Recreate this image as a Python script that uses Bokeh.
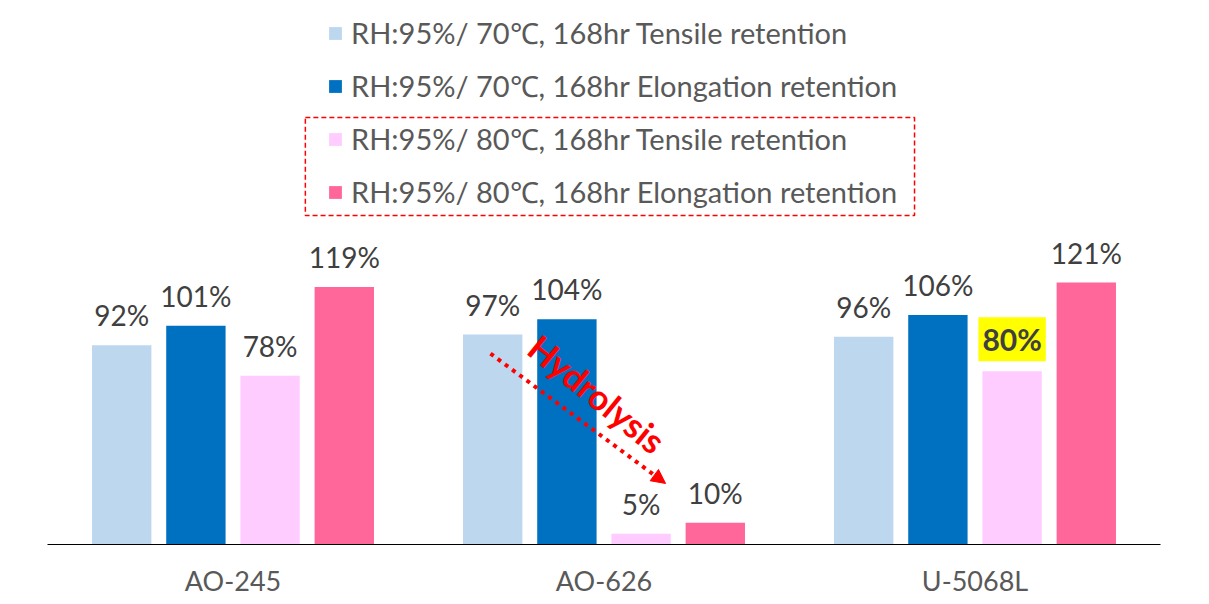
from bokeh.plotting import figure
from bokeh.models import (FactorRange, Range1d, ColumnDataSource, LabelSet, Label,
                          Legend, LegendItem, BoxAnnotation, Arrow, NormalHead)
from bokeh.transform import dodge
from bokeh.core.properties import value
from bokeh.embed import file_html
from bokeh.resources import INLINE

categories = ["AO-245", "AO-626", "U-5068L"]
series_names = [
    "RH:95%/ 70\u2103, 168hr Tensile retention",
    "RH:95%/ 70\u2103, 168hr Elongation retention",
    "RH:95%/ 80\u2103, 168hr Tensile retention",
    "RH:95%/ 80\u2103, 168hr Elongation retention",
]
tensile_70 = [92, 97, 96]
elong_70 = [101, 104, 106]
tensile_80 = [78, 5, 80]
elong_80 = [119, 10, 121]
highlight_index = 2  # U-5068L 80C tensile value highlighted

colors = ["#BDD7EE", "#0070C0", "#FFCCFF", "#FF6699"]
offsets = [-0.3, -0.1, 0.1, 0.3]
FONT = "Lato"

p = figure(width=1209, height=600, x_range=FactorRange(*categories, range_padding=0),
           y_range=Range1d(0, 251.3), output_backend="svg", toolbar_location=None,
           min_border_left=47, min_border_right=49, min_border_top=0, min_border_bottom=56)
p.outline_line_color = None
p.xgrid.visible = False
p.ygrid.visible = False
p.yaxis.visible = False
p.background_fill_color = "white"
p.border_fill_color = "white"

src = ColumnDataSource(dict(cat=categories, t70=tensile_70, e70=elong_70, t80=tensile_80, e80=elong_80,
                            t70l=[f"{v}%" for v in tensile_70], e70l=[f"{v}%" for v in elong_70],
                            t80l=[f"{v}%" if i != highlight_index else "" for i, v in enumerate(tensile_80)],
                            e80l=[f"{v}%" for v in elong_80]))

fields = ["t70", "e70", "t80", "e80"]
renderers = []
for f, c, off in zip(fields, colors, offsets):
    r = p.vbar(x=dodge("cat", off, range=p.x_range), top=f, width=0.16, source=src,
               fill_color=c, line_color=None)
    renderers.append(r)
    p.add_layout(LabelSet(x=dodge("cat", off, range=p.x_range), y=f, text=f + "l", source=src,
                          text_align="center", text_baseline="alphabetic", y_offset=19,
                          text_font=value(FONT), text_font_size=value("28px"), text_color="#404040"))

# highlighted label
hl_x = highlight_index + 0.5 + offsets[2]
p.add_layout(Label(x=hl_x, y=tensile_80[highlight_index], text=f"{tensile_80[highlight_index]}%",
                   text_align="center", text_baseline="alphabetic", y_offset=32,
                   text_font=FONT, text_font_size="30px", text_font_style="bold",
                   text_color="#404040", background_fill_color="#FFFF00", padding=4))

# axis
p.xaxis.axis_line_color = "#000000"
p.xaxis.axis_line_width = 1
p.xaxis.major_tick_line_color = None
p.xaxis.minor_tick_line_color = None
p.xaxis.major_label_text_font = FONT
p.xaxis.major_label_text_font_size = "27px"
p.xaxis.major_label_text_color = "#595959"
p.xaxis.major_label_standoff = 13

# legend
legend = Legend(items=[LegendItem(label=n, renderers=[r]) for n, r in zip(series_names, renderers)],
                location=(280, 333), orientation="vertical",
                glyph_width=16, glyph_height=16, label_standoff=8, label_height=34,
                spacing=14, padding=0, margin=0,
                label_text_font=FONT, label_text_font_size="29px", label_text_color="#595959",
                border_line_color=None, background_fill_alpha=0)
p.add_layout(legend, "center")

# dashed box around 80C legend entries
p.add_layout(BoxAnnotation(left=0.695, right=2.337, bottom=152.0, top=197.2,
                           fill_alpha=0, line_color="#FF0000", line_alpha=1.0,
                           line_dash="5 3", line_width=1.5))

# hydrolysis arrow
p.add_layout(Arrow(x_start=1.194, y_start=88.2, x_end=1.666, y_end=28.2,
                   line_color="#FF0000", line_width=4, line_dash="4 5",
                   end=NormalHead(size=14, fill_color="#FF0000", line_color="#FF0000")))
p.add_layout(Label(x=1.482, y=69.7, text="Hydrolysis", angle=-0.68,
                   text_align="center", text_baseline="middle",
                   text_font=FONT, text_font_size="35px", text_font_style="bold",
                   text_color="#FF0000"))

open("out.html", "w").write(file_html(p, INLINE))
